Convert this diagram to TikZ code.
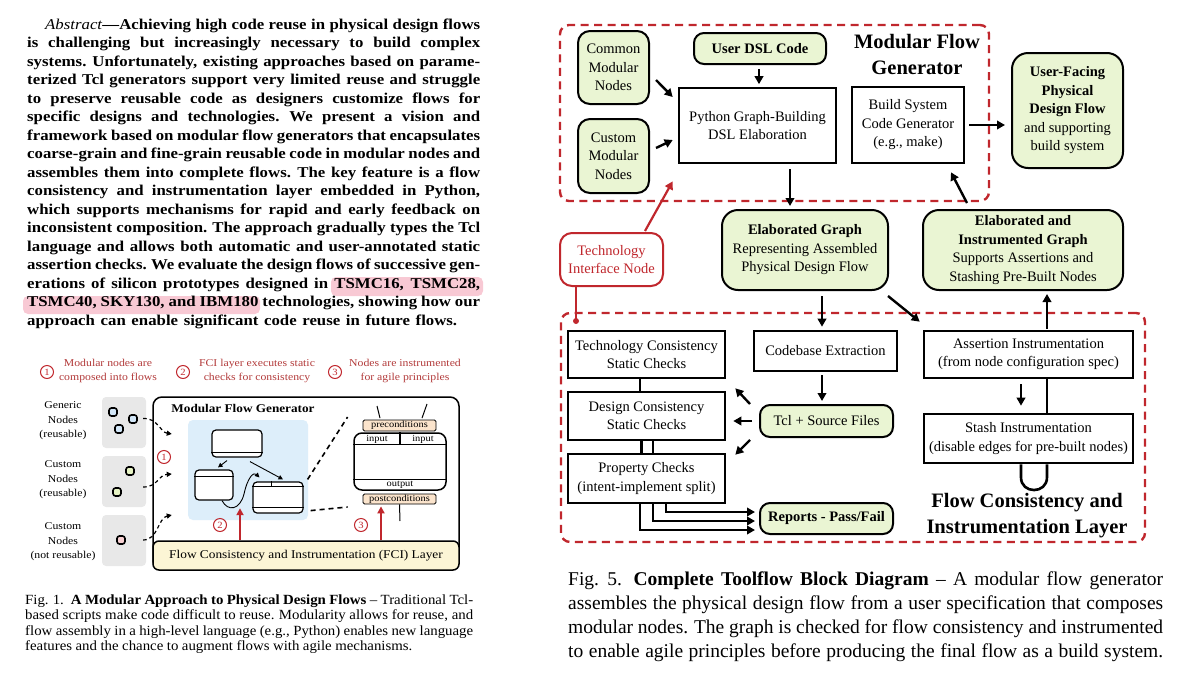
\documentclass[tikz,border=0pt]{standalone}
\usepackage{fontspec}
\setmainfont{Liberation Serif}
\newfontfamily\lf[FakeStretch=1.12]{Liberation Serif}
\newfontfamily\cf[FakeStretch=1.06]{Liberation Serif}
\usetikzlibrary{arrows.meta,calc}
\definecolor{myred}{HTML}{C0272D}
\definecolor{capred}{HTML}{B23A3A}
\definecolor{mygreen}{HTML}{EAF5D3}
\definecolor{hlpink}{HTML}{F8C9D4}
\definecolor{panelgray}{HTML}{E8E8E8}
\definecolor{cblue}{HTML}{DDEEFA}
\definecolor{cpeach}{HTML}{FBE4CC}
\definecolor{cyellow}{HTML}{FCF5D5}
\definecolor{nblue}{HTML}{D2E6F7}
\definecolor{ngreen}{HTML}{E6F3C4}
\definecolor{npink}{HTML}{F6D0D2}
\newcommand\jl[5]{\node[#1] (#2) at (#3) {\hbox to #4pt{#5}};}
\begin{document}
\begin{tikzpicture}[x=1pt,y=-1pt,
  abs/.style={anchor=mid west,inner sep=0pt,font={\lf\bfseries\fontsize{15}{18.5}\selectfont\spaceskip=.25em plus 1.5em minus .12em\xspaceskip=.3em plus 1.5em minus .1em}},
  capa/.style={anchor=mid west,inner sep=0pt,font={\cf\fontsize{14}{15.5}\selectfont\spaceskip=.25em plus 1.5em minus .1em\xspaceskip=.3em plus 1.5em minus .1em}},
  capb/.style={anchor=mid west,inner sep=0pt,font={\fontsize{19.5}{24}\selectfont\spaceskip=.25em plus 1.5em minus .12em\xspaceskip=.3em plus 1.5em minus .1em}},
  gbox/.style={draw,line width=2pt,fill=mygreen,rounded corners=12pt,align=center,inner sep=0pt,font={\fontsize{14.5}{18.5}\selectfont}},
  bbox/.style={draw,line width=2.6pt,fill=white,align=center,inner sep=0pt,font={\fontsize{14.5}{18.5}\selectfont}},
  rdash/.style={draw=myred,line width=2.4pt,dash pattern=on 8pt off 5.5pt,rounded corners=9pt},
  arr/.style={line width=2.4pt,-{Triangle[length=8pt,width=8.5pt]}},
  plain/.style={line width=2.6pt},
  ttl/.style={font={\bfseries\fontsize{20.5}{26}\selectfont},align=center,inner sep=0pt},
  lab/.style={font={\lf\fontsize{10.5}{14.5}\selectfont},align=center,inner sep=0pt},
  rcap/.style={lab,text=capred},
  numc/.style={circle,draw=myred,line width=1pt,text=myred,minimum size=13pt,inner sep=0pt,font={\lf\fontsize{9.5}{10}\selectfont}},
  panel/.style={fill=panelgray,rounded corners=4pt,minimum width=44pt,minimum height=51pt,inner sep=0pt},
  mnode/.style={draw,line width=1.6pt,rounded corners=2.5pt,minimum size=8pt,inner sep=0pt},
  mbox/.style={draw,line width=1.2pt,rounded corners=4pt,fill=white,inner sep=0pt},
  sarr/.style={line width=0.9pt,-{Triangle[length=4.5pt,width=4.5pt]}},
  darr/.style={line width=1.2pt,dash pattern=on 3.5pt off 3pt,-{Triangle[length=5pt,width=5pt]}},
  rarr/.style={line width=2.2pt,draw=myred,-{Triangle[length=7pt,width=7pt]}},
  small/.style={font={\lf\fontsize{9.3}{10}\selectfont},inner sep=0pt}
]
\useasboundingbox (0,0) rectangle (1200,675);

% ---------- abstract ----------
\fill[hlpink,rounded corners=5pt] (331,277) rectangle (483,296);
\fill[hlpink,rounded corners=5pt] (23,296) rectangle (260,314);
\jl{abs}{ab1}{45,27}{435}{\textit{\mdseries Abstract}—Achieving high code reuse in physical design flows}
\jl{abs}{ab2}{27,45.5}{453}{is challenging but increasingly necessary to build complex}
\jl{abs}{ab3}{27,64}{453}{systems. Unfortunately, existing approaches based on parame-}
\jl{abs}{ab4}{27,82.5}{453}{terized Tcl generators support very limited reuse and struggle}
\jl{abs}{ab5}{27,101}{453}{to preserve reusable code as designers customize flows for}
\jl{abs}{ab6}{27,119.5}{453}{specific designs and technologies. We present a vision and}
\jl{abs}{ab7}{27,138}{453}{framework based on modular flow generators that encapsulates}
\jl{abs}{ab8}{27,156.5}{453}{coarse-grain and fine-grain reusable code in modular nodes and}
\jl{abs}{ab9}{27,175}{453}{assembles them into complete flows. The key feature is a flow}
\jl{abs}{ab10}{27,193.5}{453}{consistency and instrumentation layer embedded in Python,}
\jl{abs}{ab11}{27,212}{453}{which supports mechanisms for rapid and early feedback on}
\jl{abs}{ab12}{27,230.5}{453}{inconsistent composition. The approach gradually types the Tcl}
\jl{abs}{ab13}{27,249}{453}{language and allows both automatic and user-annotated static}
\jl{abs}{ab14}{27,267.5}{453}{assertion checks. We evaluate the design flows of successive gen-}
\jl{abs}{ab15}{27,286}{453}{erations of silicon prototypes designed in TSMC16, TSMC28,}
\jl{abs}{ab16}{27,304.5}{453}{TSMC40, SKY130, and IBM180 technologies, showing how our}
\jl{abs}{ab17}{27,323}{430}{approach can enable significant code reuse in future flows.}

% ---------- Fig. 1 diagram ----------
\node[numc] (k1) at (47,372) {1};
\node[rcap] (k1t) at (108,371) {Modular nodes are\\composed into flows};
\node[numc] (k2) at (183,372) {2};
\node[rcap] (k2t) at (257,371) {FCI layer executes static\\checks for consistency};
\node[numc] (k3) at (335,372) {3};
\node[rcap] (k3t) at (405,371) {Nodes are instrumented\\for agile principles};

\node[panel] (gp1) at (124,422.5) {};
\node[panel] (gp2) at (124,481.5) {};
\node[panel] (gp3) at (124,540.5) {};
\node[lab] (gl1) at (63,421) {Generic\\Nodes\\(reusable)};
\node[lab] (gl2) at (63,480) {Custom\\Nodes\\(reusable)};
\node[lab] (gl3) at (63,542) {Custom\\Nodes\\(not reusable)};
\node[mnode,fill=nblue] (n1) at (113,412) {};
\node[mnode,fill=nblue] (n2) at (133,419) {};
\node[mnode,fill=nblue] (n3) at (119,429) {};
\node[mnode,fill=ngreen] (n4) at (130,471) {};
\node[mnode,fill=ngreen] (n5) at (117,492) {};
\node[mnode,fill=npink] (n6) at (121,540) {};

\node[draw,line width=1.5pt,rounded corners=9pt,fill=white,minimum width=306pt,minimum height=173pt,inner sep=0pt] (mfg1) at (306,483.5) {};
\node[font={\lf\bfseries\fontsize{11.8}{14}\selectfont},inner sep=0pt] (mfg1t) at (243,408) {Modular Flow Generator};
\node[fill=cblue,rounded corners=5pt,minimum width=120pt,minimum height=100pt,inner sep=0pt] (blue) at (248,470) {};
\node[numc] (k1b) at (164,457) {1};

\draw[darr] ($(gp1.east)+(-3,-4)$) .. controls (158,418) and (160,432) .. ($(blue.west)+(-16,-36)$);
\draw[darr] ($(gp2.east)+(-3,5.5)$) .. controls (158,487) and (158,475) .. ($(blue.west)+(-16,4)$);
\draw[darr] ($(gp3.east)+(-3,-0.5)$) .. controls (158,540) and (158,518) .. ($(blue.west)+(-16,45)$);

\node[mbox,minimum width=50pt,minimum height=27pt] (mb1) at (237,443.5) {};
\draw[line width=1.2pt] ($(mb1.south west)+(0,-5)$) -- ($(mb1.south east)+(0,-5)$);
\node[mbox,minimum width=38pt,minimum height=30pt] (mb2) at (214,485) {};
\draw[line width=1.2pt] ($(mb2.north west)+(0,7)$) -- ($(mb2.north east)+(0,7)$);
\node[mbox,minimum width=50pt,minimum height=31pt] (mb3) at (278,497.5) {};
\draw[line width=1.2pt] ($(mb3.north west)+(0,5)$) -- ($(mb3.north east)+(0,5)$);
\draw[line width=1.2pt] ($(mb3.south west)+(0,-6)$) -- ($(mb3.south east)+(0,-6)$);
\draw[line width=1.2pt] ($(mb3.north west)+(19,0)$) -- ($(mb3.north west)+(19,5)$);
\draw[sarr] ($(mb1.south)+(-10,3)$) -- ($(mb2.north)+(4,-2)$);
\draw[sarr] ($(mb1.south)+(13,4)$) -- ($(mb3.north)+(5,-2)$);
\draw[sarr] ($(mb2.south)+(8,0)$) .. controls (228,512) and (240,510) .. (244,494) .. controls (248,476) and (254,472) .. ($(mb3.north west)+(7,-4)$);

\node[draw,line width=0.8pt,fill=cpeach,rounded corners=1.5pt,minimum width=73pt,minimum height=11pt,inner sep=0pt,font={\lf\fontsize{9.3}{10}\selectfont}] (pre) at (399.5,425.5) {preconditions};
\node[draw,line width=1.5pt,rounded corners=8pt,fill=white,minimum width=92pt,minimum height=57pt,inner sep=0pt] (nd) at (400,461.5) {};
\draw[line width=1.3pt] ($(nd.north west)+(0,12)$) -- ($(nd.north east)+(0,12)$);
\draw[line width=1.3pt] (nd.north) -- ($(nd.north)+(0,12)$);
\draw[line width=1.3pt] ($(nd.south west)+(0,-11)$) -- ($(nd.south east)+(0,-11)$);
\node[small] (in1) at (377,439.5) {input};
\node[small] (in2) at (423,439.5) {input};
\node[small] (out) at (400,484.5) {output};
\node[draw,line width=0.8pt,fill=cpeach,rounded corners=1.5pt,minimum width=73pt,minimum height=10pt,inner sep=0pt,font={\lf\fontsize{9.3}{10}\selectfont}] (post) at (399.5,499) {postconditions};
\coordinate (pl1) at (377,406);
\coordinate (pl2) at (427,404);
\coordinate (pl3) at (400,521);
\draw[line width=1pt] (pl1) -- ($(pre.north)+(-19.5,-1.5)$);
\draw[line width=1pt] (pl2) -- ($(pre.north)+(22.5,-1.5)$);
\draw[line width=1pt] (post.south) -- (pl3);
\draw[line width=1.6pt,dash pattern=on 5pt off 4pt] ($(mb3.north east)+(4,-2)$) -- ($(pre.west)+(-15,-8.5)$);
\draw[line width=1.6pt,dash pattern=on 5pt off 4pt] ($(mb3.south east)+(7,-3)$) -- ($(post.west)+(-15,8)$);

\node[numc] (k2b) at (220,525) {2};
\node[numc] (k3b) at (361,525) {3};
\node[draw,line width=1.5pt,rounded corners=6pt,fill=cyellow,minimum width=306pt,minimum height=29pt,inner sep=0pt,font={\lf\fontsize{11.9}{14}\selectfont}] (fcibar) at (306,555.5) {Flow Consistency and Instrumentation (FCI) Layer};
\draw[rarr] ($(fcibar.north)+(-66,0)$) -- ($(blue.south)+(-8,-12)$);
\draw[rarr] ($(fcibar.north)+(75,0)$) -- ($(post.south)+(-18.5,2)$);

% ---------- Fig. 1 caption ----------
\jl{capa}{fa1}{25,602}{448}{Fig. 1.\hspace{0.5em}\textbf{A Modular Approach to Physical Design Flows} – Traditional Tcl-}
\jl{capa}{fa2}{25,617.5}{448}{based scripts make code difficult to reuse. Modularity allows for reuse, and}
\jl{capa}{fa3}{25,633}{448}{flow assembly in a high-level language (e.g., Python) enables new language}
\node[capa] (fa4) at (25,648.5) {features and the chance to augment flows with agile mechanisms.};

% ---------- Fig. 5 diagram ----------
\node[rdash,minimum width=429pt,minimum height=176pt,inner sep=0pt] (mfg) at (774.5,113) {};
\node[rdash,minimum width=584pt,minimum height=229pt,inner sep=0pt] (fcil) at (853,427.5) {};
\node[ttl] (mfgt) at (917,54) {Modular Flow\\Generator};
\node[ttl] (fcit) at (1027,516) {Flow Consistency and\\Instrumentation Layer};

\node[gbox,minimum width=71pt,minimum height=73pt] (common) at (613.5,67.5) {Common\\Modular\\Nodes};
\node[gbox,minimum width=71pt,minimum height=74pt] (custom) at (613.5,156) {Custom\\Modular\\Nodes};
\node[gbox,minimum width=132pt,minimum height=31pt,rounded corners=10pt] (dsl) at (760,48.5) {\bfseries User DSL Code};
\node[bbox,minimum width=157pt,minimum height=75pt] (python) at (757.5,125.5) {Python Graph-Building\\DSL Elaboration};
\node[bbox,minimum width=112pt,minimum height=76pt] (build) at (908,125) {Build System\\Code Generator\\(e.g., make)};
\node[gbox,minimum width=111pt,minimum height=115pt,rounded corners=16pt] (user) at (1067.5,110.5) {\textbf{User-Facing}\\\textbf{Physical}\\\textbf{Design Flow}\\and supporting\\build system};
\node[gbox,draw=myred,fill=white,text=myred,minimum width=103pt,minimum height=53pt] (tech) at (611.5,259.5) {Technology\\Interface Node};
\node[gbox,minimum width=166pt,minimum height=80pt,rounded corners=16pt] (elab) at (805,250) {\textbf{Elaborated Graph}\\Representing Assembled\\Physical Design Flow};
\node[gbox,minimum width=200pt,minimum height=80pt,rounded corners=16pt] (einst) at (1023,250) {\textbf{Elaborated and}\\\textbf{Instrumented Graph}\\Supports Assertions and\\Stashing Pre-Built Nodes};
\node[bbox,minimum width=157pt,minimum height=47pt] (techc) at (646.5,354.5) {Technology Consistency\\Static Checks};
\node[bbox,minimum width=143pt,minimum height=40pt] (code) at (825.5,351) {Codebase Extraction};
\node[bbox,minimum width=157pt,minimum height=48pt] (design) at (646.5,416) {Design Consistency\\Static Checks};
\node[bbox,minimum width=157pt,minimum height=49pt] (prop) at (646.5,478.5) {Property Checks\\(intent-implement split)};
\node[gbox,minimum width=133pt,minimum height=32pt,rounded corners=10pt] (tcl) at (826.5,421) {Tcl + Source Files};
\node[gbox,minimum width=133pt,minimum height=31pt,rounded corners=10pt] (rep) at (826.5,518.5) {\bfseries Reports - Pass/Fail};
\node[bbox,minimum width=209pt,minimum height=47pt] (assert) at (1028.5,354.5) {Assertion Instrumentation\\(from node configuration spec)};
\node[bbox,minimum width=209pt,minimum height=49pt] (stash) at (1028.5,438.5) {Stash Instrumentation\\(disable edges for pre-built nodes)};

% connectors
\draw[arr] ($(dsl.south)+(-1,4)$) -- ($(python.north)+(1.5,-2.5)$);
\draw[arr] ($(common.east)+(6,12.5)$) -- ($(python.west)+(-5,-28.5)$);
\draw[arr] ($(custom.east)+(6,-8)$) -- ($(python.west)+(-5,14.5)$);
\draw[arr,draw=myred,line width=2.2pt] ($(tech.north)+(33.5,-1)$) -- ($(python.south west)+(-5,17)$);
\coordinate (techdot) at ($(tech.south west)+(17,34)$);
\draw[draw=myred,line width=2.6pt] ($(tech.south west)+(17,0)$) -- (techdot);
\fill[myred] (techdot) circle[radius=3pt];
\draw[arr] ($(python.south)+(32.5,5)$) -- ($(elab.north)+(-15,-3)$);
\draw[arr] ($(build.east)+(4,0)$) -- ($(user.west)+(-6,14.5)$);
\draw[arr] ($(einst.north west)+(45,-6)$) -- ($(build.south)+(43,8)$);
\draw[arr] ($(elab.south)+(17,5)$) -- ($(code.north)+(-3.5,-3)$);
\draw[arr] ($(elab.south east)+(-1,5)$) -- ($(assert.north west)+(-3,-8)$);
\draw[arr] ($(assert.north)+(18.5,-1)$) -- ($(einst.south)+(24,3)$);
\draw[arr] ($(code.south)+(-3.5,3)$) -- ($(tcl.north)+(-4.5,-3)$);
\draw[arr] ($(tcl.west)+(-9,-17)$) -- ($(techc.south east)+(9,9)$);
\draw[arr] ($(tcl.west)+(-7,0)$) -- ($(design.east)+(7,5)$);
\draw[arr] ($(tcl.west)+(-9,19)$) -- ($(prop.north east)+(9,2)$);
\draw[plain] ($(techc.south)+(-6.5,0)$) -- ($(design.north)+(-6.5,0)$);
\draw[plain] ($(design.south)+(-5,0)$) -- ($(prop.north)+(-5,0)$);
\draw[plain] ($(design.south)+(6.5,0)$) -- ($(prop.north)+(6.5,0)$);
\draw[arr] ($(prop.south)+(-6.5,0)$) |- ($(rep.west)+(-4,11.5)$);
\draw[arr] ($(prop.south)+(6.5,0)$) |- ($(rep.west)+(-4,2.5)$);
\draw[arr] ($(prop.south)+(19.5,0)$) |- ($(rep.west)+(-4,-6.5)$);
\draw[arr] ($(assert.south)+(-7.5,5)$) -- ($(stash.north)+(-7.5,-7)$);
\draw[plain] ($(assert.south)+(18.5,0)$) -- ($(stash.north)+(18.5,0)$);
\draw[plain] ($(stash.south)+(-7.5,0)$) -- ($(stash.south)+(-7.5,13)$) .. controls ($(stash.south)+(-7.5,30)$) and ($(stash.south)+(18.5,30)$) .. ($(stash.south)+(18.5,13)$) -- ($(stash.south)+(18.5,0)$);

% ---------- Fig. 5 caption ----------
\jl{capb}{fb1}{568,583}{595}{Fig. 5.\hspace{0.6em}\textbf{Complete Toolflow Block Diagram} – A modular flow generator}
\jl{capb}{fb2}{568,607}{595}{assembles the physical design flow from a user specification that composes}
\jl{capb}{fb3}{568,631}{595}{modular nodes. The graph is checked for flow consistency and instrumented}
\jl{capb}{fb4}{568,655}{595}{to enable agile principles before producing the final flow as a build system.}
\end{tikzpicture}
\end{document}
